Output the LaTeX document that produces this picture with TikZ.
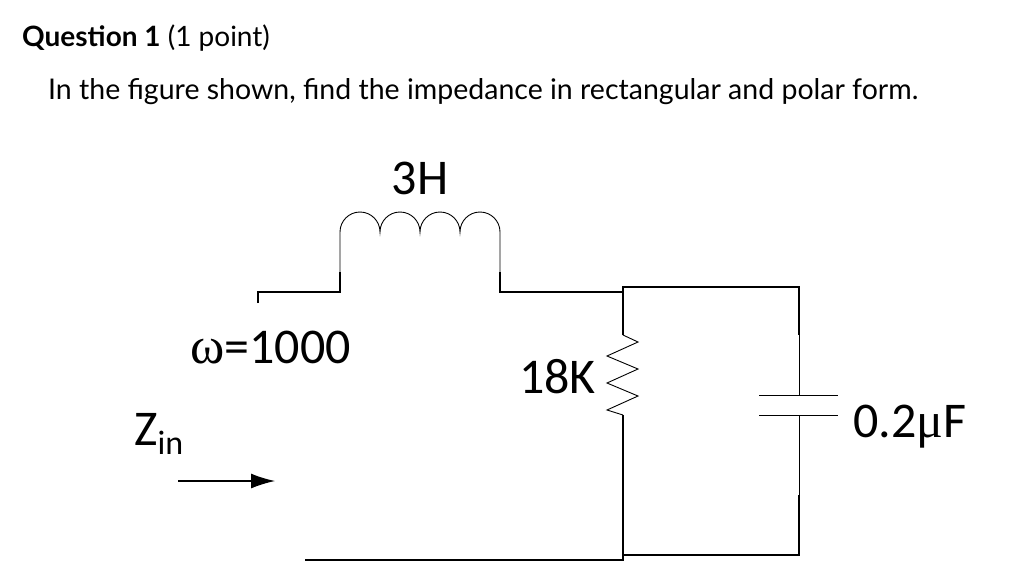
\documentclass[tikz,border=0pt]{standalone}
\usepackage{fontspec}
\usetikzlibrary{arrows.meta}
\setmainfont{Lato}
\newfontfamily\cfont{Carlito}
\newfontfamily\sym{Liberation Serif}
\tikzset{
 thick wire/.style={line width=2.6pt},
 thin wire/.style={line width=0.9pt},
 lbl/.style={font=\cfont\fontsize{50}{50}\selectfont, inner sep=0pt},
}
\begin{document}
\begin{tikzpicture}[x=1pt,y=-1pt]
\useasboundingbox (0,0) rectangle (1024,579);
\node[anchor=base west, inner sep=0pt, font=\fontsize{28}{28}\selectfont] (q) at (22,46) {\textbf{Question 1} (1 point)};
\node[anchor=base west, inner sep=0pt, font=\fontsize{28.5}{28}\selectfont] (t) at (48,99) {In the figure shown, find the impedance in rectangular and polar form.};
\coordinate (s0) at (258,303);
\coordinate (s1) at (258,292);
\coordinate (L0) at (340,292);
\coordinate (L1) at (340,272);
\coordinate (L2) at (340,232);
\coordinate (L4) at (500,272);
\coordinate (L5) at (500,292);
\coordinate (n1) at (623,292);
\coordinate (n1t) at (623,287);
\coordinate (r0) at (623,335);
\coordinate (r1) at (623,415);
\coordinate (n2) at (623,560);
\coordinate (n2b) at (623,555);
\coordinate (b0) at (305,560);
\coordinate (c0) at (799,287);
\coordinate (c1) at (799,335);
\coordinate (c2) at (799,395);
\coordinate (c3) at (799,415);
\coordinate (c4) at (799,495);
\coordinate (c5) at (799,555);
\draw[thick wire] (s0) -- (s1) -- (L0) -- (L1);
\draw[thin wire] (L1) -- (L2) arc[start angle=180,end angle=360,radius=20] arc[start angle=180,end angle=360,radius=20] arc[start angle=180,end angle=360,radius=20] arc[start angle=180,end angle=360,radius=20] -- (L4);
\draw[thick wire] (L4) -- (L5) -- (n1);
\draw[thick wire] (r0) -- (n1t) -- (c0) -- (c1);
\draw[thin wire] (r0) -- ++(15,7) -- ++(-31,14) -- ++(31,13) -- ++(-31,14) -- ++(31,13) -- ++(-31,14) -- (r1);
\draw[thick wire] (r1) -- (n2) -- (b0);
\draw[thick wire] (n2) -- (n2b) -- (c5) -- (c4);
\draw[thin wire] (c1) -- (c2) (c3) -- (c4);
\draw[thin wire] (759,395) -- (838,395) (759,415) -- (838,415);
\coordinate (a0) at (178,481);
\coordinate (a1) at (275,481);
\draw[line width=1.3pt,-{Latex[length=24pt,width=15pt]}] (a0) -- (a1);
\node[lbl] (h) at (420,178) {3H};
\node[lbl,anchor=base west] (w) at (190,363) {\sym\fontsize{52}{50}\selectfont ω\cfont\fontsize{50}{50}\selectfont =1000};
\node[lbl,anchor=base east] (k) at (596,393) {18K};
\node[lbl,anchor=base west] (z) at (134,445) {Z\fontsize{34}{34}\selectfont\raisebox{-9pt}{in}};
\node[lbl,anchor=base west] (f) at (853,437) {0.2\sym\fontsize{50}{50}\selectfont μ\cfont\fontsize{50}{50}\selectfont F};
\end{tikzpicture}
\end{document}
